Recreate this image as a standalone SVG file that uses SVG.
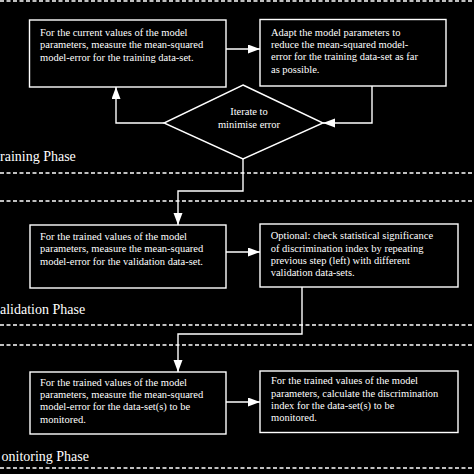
<svg xmlns="http://www.w3.org/2000/svg" width="474" height="474" viewBox="0 0 474 474">
<style>
.box{fill:#000;stroke:#fff;stroke-width:1.4}
.t{font-family:"Liberation Serif","Times New Roman",serif;font-size:10.5px;fill:#fff}
.ph{font-family:"Liberation Serif","Times New Roman",serif;font-size:14px;fill:#fff}
.dash{stroke:#fff;stroke-width:1.4;stroke-dasharray:4 2.5;fill:none}
.c{stroke:#fff;stroke-width:1.4;fill:none}
</style>
<defs>
<marker id="ah" markerUnits="userSpaceOnUse" markerWidth="12" markerHeight="10" refX="12" refY="4.5" orient="auto">
<path d="M0,0 L12,4.5 L0,9 z" fill="#fff"/>
</marker>
</defs>
<rect width="474" height="474" fill="#000"/>
<g id="separators">
<line class="dash" x1="0" y1="1" x2="474" y2="1"/>
<line class="dash" x1="0" y1="173" x2="474" y2="173"/>
<line class="dash" x1="0" y1="201" x2="474" y2="201"/>
<line class="dash" x1="0" y1="325" x2="474" y2="325"/>
<line class="dash" x1="0" y1="345" x2="474" y2="345"/>
<line class="dash" x1="0" y1="468" x2="474" y2="468"/>
</g>
<g id="phase-labels">
<text class="ph" x="0" y="160.5">raining Phase</text>
<text class="ph" x="0" y="314">alidation Phase</text>
<text class="ph" x="1.5" y="460.5">onitoring Phase</text>
</g>
<g id="connectors">
<line class="c" x1="226" y1="49" x2="260" y2="49" marker-end="url(#ah)"/>
<polyline class="c" points="372,86 372,123 323,123" marker-end="url(#ah)"/>
<polyline class="c" points="164,123 116,123 116,87" marker-end="url(#ah)"/>
<polyline class="c" points="243,159 243,191 178,191 178,225" marker-end="url(#ah)"/>
<line class="c" x1="226" y1="252" x2="260" y2="252" marker-end="url(#ah)"/>
<polyline class="c" points="302,287 302,334 178,334 178,372" marker-end="url(#ah)"/>
<line class="c" x1="226" y1="402" x2="260" y2="402" marker-end="url(#ah)"/>
</g>
<g id="train-measure">
<rect class="box" x="29.5" y="20" width="196.5" height="67"/>
<text class="t" x="40" y="36">For the current values of the model</text>
<text class="t" x="40" y="48.3">parameters, measure the mean-squared</text>
<text class="t" x="40" y="60.6">model-error for the training data-set.</text>
</g>
<g id="train-adapt">
<rect class="box" x="260" y="19.5" width="186" height="66.5"/>
<text class="t" x="271" y="35.7">Adapt the model parameters to</text>
<text class="t" x="271" y="48">reduce the mean-squared model-</text>
<text class="t" x="271" y="60.3">error for the training data-set as far</text>
<text class="t" x="271" y="72.6">as possible.</text>
</g>
<g id="iterate">
<polygon class="box" points="243,85 323,123 243,159 164,123"/>
<text class="t" x="249" y="115" text-anchor="middle">Iterate to</text>
<text class="t" x="249" y="127.5" text-anchor="middle">minimise error</text>
</g>
<g id="valid-measure">
<rect class="box" x="30" y="225" width="196" height="63"/>
<text class="t" x="40" y="240">For the trained values of the model</text>
<text class="t" x="40" y="252.3">parameters, measure the mean-squared</text>
<text class="t" x="40" y="264.6">model-error for the validation data-set.</text>
</g>
<g id="valid-optional">
<rect class="box" x="260" y="224" width="198" height="63"/>
<text class="t" x="270.7" y="239.3">Optional: check statistical significance</text>
<text class="t" x="270.7" y="251.6">of discrimination index by repeating</text>
<text class="t" x="270.7" y="263.9">previous step (left) with different</text>
<text class="t" x="270.7" y="276.2">validation data-sets.</text>
</g>
<g id="monitor-measure">
<rect class="box" x="30" y="372" width="196" height="62"/>
<text class="t" x="40" y="385.7">For the trained values of the model</text>
<text class="t" x="40" y="398">parameters, measure the mean-squared</text>
<text class="t" x="40" y="410.3">model-error for the data-set(s) to be</text>
<text class="t" x="40" y="422.6">monitored.</text>
</g>
<g id="monitor-index">
<rect class="box" x="260" y="371" width="198" height="61.5"/>
<text class="t" x="271" y="384.3">For the trained values of the model</text>
<text class="t" x="271" y="396.6">parameters, calculate the discrimination</text>
<text class="t" x="271" y="408.9">index for the data-set(s) to be</text>
<text class="t" x="271" y="421.2">monitored.</text>
</g>
</svg>
